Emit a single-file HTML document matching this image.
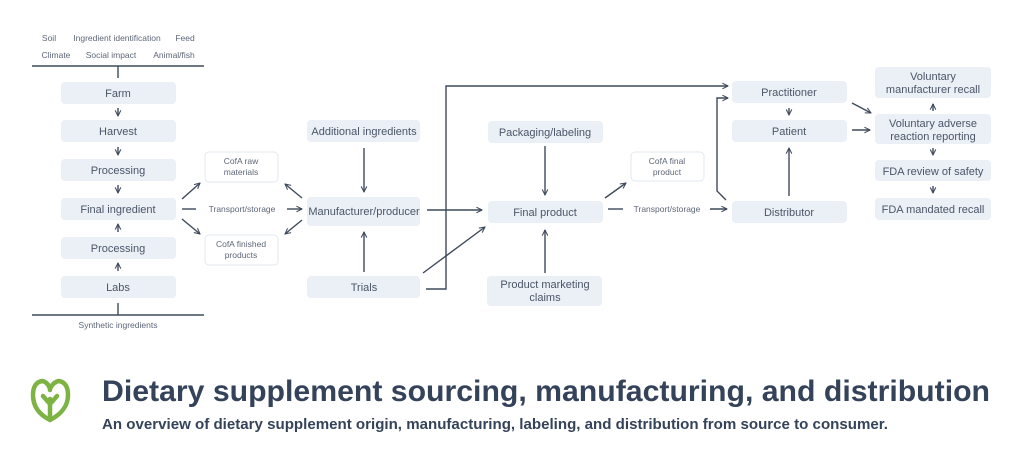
<!DOCTYPE html>
<html><head><meta charset="utf-8"><style>
html,body{margin:0;padding:0;background:#fff;}
svg{display:block;font-family:"Liberation Sans",sans-serif;}
.b{fill:#ebeff6;}
.w{fill:#fff;stroke:#e3e8ef;stroke-width:1;}
.t{fill:#4b5668;font-size:11px;text-anchor:middle;}
.s{fill:#5d6778;font-size:8.5px;text-anchor:middle;}
.l{stroke:#3e4a5c;stroke-width:1.4;fill:none;}
</style></head><body>
<svg width="1024" height="467" viewBox="0 0 1024 467">
<defs><marker id="a" viewBox="0 0 10 10" refX="9" refY="5" markerWidth="7" markerHeight="7" orient="auto" markerUnits="userSpaceOnUse"><path d="M1,1 L9,5 L1,9" fill="none" stroke="#3e4a5c" stroke-width="1.5"/></marker></defs>

<!-- top labels -->
<text class="s" x="49" y="41">Soil</text>
<text class="s" x="117" y="41">Ingredient identification</text>
<text class="s" x="185" y="41">Feed</text>
<text class="s" x="56" y="58">Climate</text>
<text class="s" x="111" y="58">Social impact</text>
<text class="s" x="174" y="58">Animal/fish</text>
<path class="l" d="M32 66H204M118 66V78"/>
<path class="l" d="M32 315H204M118 315V303"/>
<text class="s" x="118" y="328">Synthetic ingredients</text>

<!-- left column -->
<rect class="b" x="61" y="82" width="115" height="22" rx="4"/><text class="t" x="118" y="97">Farm</text>
<rect class="b" x="61" y="120" width="115" height="22" rx="4"/><text class="t" x="118" y="135">Harvest</text>
<rect class="b" x="61" y="159" width="115" height="22" rx="4"/><text class="t" x="118" y="174">Processing</text>
<rect class="b" x="61" y="198" width="115" height="22" rx="4"/><text class="t" x="118" y="213">Final ingredient</text>
<rect class="b" x="61" y="237" width="115" height="22" rx="4"/><text class="t" x="118" y="252">Processing</text>
<rect class="b" x="61" y="276" width="115" height="22" rx="4"/><text class="t" x="118" y="291">Labs</text>
<path class="l" marker-end="url(#a)" d="M118 108V116"/>
<path class="l" marker-end="url(#a)" d="M118 147V155"/>
<path class="l" marker-end="url(#a)" d="M118 185V193"/>
<path class="l" marker-end="url(#a)" d="M118 232V224"/>
<path class="l" marker-end="url(#a)" d="M118 271V263"/>

<rect class="w" x="205" y="152" width="73" height="30" rx="4"/><text class="s" x="241" y="164">CofA raw</text><text class="s" x="241" y="175">materials</text>
<rect class="w" x="205" y="235" width="73" height="30" rx="4"/><text class="s" x="241" y="247">CofA finished</text><text class="s" x="241" y="258">products</text>
<text class="s" x="242" y="212">Transport/storage</text>
<path class="l" d="M182 209H196"/>
<path class="l" marker-end="url(#a)" d="M287 209H302"/>
<path class="l" marker-end="url(#a)" d="M182 199L200 183"/>
<path class="l" marker-end="url(#a)" d="M182 219L200 234"/>
<path class="l" marker-end="url(#a)" d="M302 198L285 184"/>
<path class="l" marker-end="url(#a)" d="M302 220L285 234"/>

<!-- manufacturer -->
<rect class="b" x="307" y="120" width="113" height="22" rx="4"/><text class="t" x="364" y="135">Additional ingredients</text>
<rect class="b" x="307" y="197" width="113" height="29" rx="4"/><text class="t" x="364" y="215">Manufacturer/producer</text>
<rect class="b" x="307" y="276" width="113" height="22" rx="4"/><text class="t" x="364" y="291">Trials</text>
<path class="l" marker-end="url(#a)" d="M364 148V192"/>
<path class="l" marker-end="url(#a)" d="M364 272V232"/>
<path class="l" marker-end="url(#a)" d="M427 210H482"/>
<path class="l" marker-end="url(#a)" d="M423 273L485 227"/>
<path class="l" marker-end="url(#a)" d="M426 289H446V86H728"/>

<!-- final product -->
<rect class="b" x="488" y="121" width="115" height="22" rx="4"/><text class="t" x="545" y="136">Packaging/labeling</text>
<rect class="b" x="488" y="201" width="115" height="22" rx="4"/><text class="t" x="545" y="216">Final product</text>
<rect class="b" x="487" y="276" width="115" height="30" rx="4"/><text class="t" x="545" y="288">Product marketing</text><text class="t" x="545" y="301">claims</text>
<path class="l" marker-end="url(#a)" d="M545 146V195"/>
<path class="l" marker-end="url(#a)" d="M545 273V230"/>
<rect class="w" x="631" y="152" width="73" height="29" rx="4"/><text class="s" x="667" y="164">CofA final</text><text class="s" x="667" y="175">product</text>
<path class="l" marker-end="url(#a)" d="M605 198L626 183"/>
<path class="l" d="M608 209H623"/>
<text class="s" x="667" y="212">Transport/storage</text>
<path class="l" marker-end="url(#a)" d="M710 209H727"/>
<path class="l" marker-end="url(#a)" d="M726 200L717 191V98H728"/>

<!-- distribution -->
<rect class="b" x="732" y="81" width="115" height="22" rx="4"/><text class="t" x="789" y="96">Practitioner</text>
<rect class="b" x="732" y="120" width="115" height="22" rx="4"/><text class="t" x="789" y="135">Patient</text>
<rect class="b" x="732" y="201" width="115" height="22" rx="4"/><text class="t" x="789" y="216">Distributor</text>
<path class="l" marker-end="url(#a)" d="M789 108V115"/>
<path class="l" marker-end="url(#a)" d="M789 196V148"/>
<path class="l" marker-end="url(#a)" d="M852 103L871 113"/>
<path class="l" marker-end="url(#a)" d="M852 130H870"/>

<!-- right column -->
<rect class="b" x="875" y="67" width="116" height="31" rx="4"/><text class="t" x="933" y="80">Voluntary</text><text class="t" x="933" y="93">manufacturer recall</text>
<rect class="b" x="875" y="114" width="116" height="30" rx="4"/><text class="t" x="933" y="127">Voluntary adverse</text><text class="t" x="933" y="140">reaction reporting</text>
<rect class="b" x="875" y="160" width="116" height="21" rx="4"/><text class="t" x="933" y="175">FDA review of safety</text>
<rect class="b" x="875" y="198" width="116" height="22" rx="4"/><text class="t" x="933" y="213">FDA mandated recall</text>
<path class="l" marker-end="url(#a)" d="M933 111V104"/>
<path class="l" marker-end="url(#a)" d="M933 148V155"/>
<path class="l" marker-end="url(#a)" d="M933 186V193"/>

<!-- logo -->
<g fill="none" stroke="#7cb342" stroke-width="4.5" stroke-linecap="round" stroke-linejoin="round">
<path d="M50 420C38 414 33 405 33 395C33 387 36 382 42 381C48 382 50 388 50 390C50 388 53 382 59 381C65 382 68 387 68 395C68 405 62 414 50 420Z"/>
<path d="M50 418V399M50 404L43 396M50 404L57 396"/>
</g>
<text x="102" y="401" font-size="30" font-weight="bold" fill="#34435a" textLength="888" lengthAdjust="spacingAndGlyphs">Dietary supplement sourcing, manufacturing, and distribution</text>
<text x="102" y="429" font-size="14.5" font-weight="bold" fill="#34435a" textLength="786" lengthAdjust="spacingAndGlyphs">An overview of dietary supplement origin, manufacturing, labeling, and distribution from source to consumer.</text>
</svg>
</body></html>
